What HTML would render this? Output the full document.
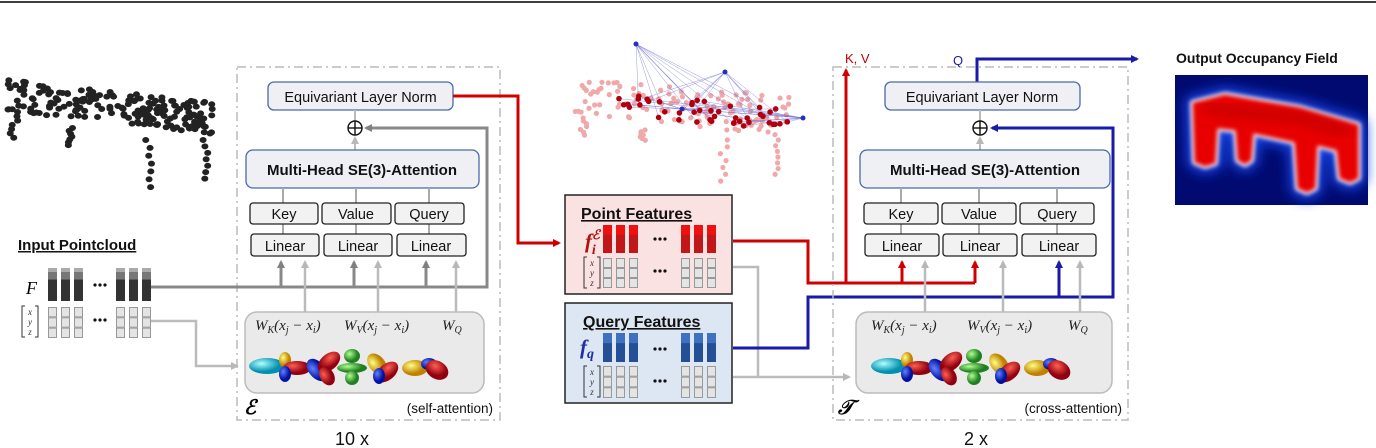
<!DOCTYPE html>
<html><head><meta charset="utf-8"><style>
html,body{margin:0;padding:0;background:#fff;}
svg{display:block;font-family:"Liberation Sans",sans-serif;}
</style></head><body>
<svg id="s" width="1376" height="448" viewBox="0 0 1376 448" xmlns="http://www.w3.org/2000/svg">
<defs>
<marker id="ag" markerWidth="8" markerHeight="8" refX="6" refY="4" orient="auto" markerUnits="userSpaceOnUse"><path d="M0,0 L8,4 L0,8 z" fill="#808080"/></marker>
<marker id="al" markerWidth="8" markerHeight="8" refX="6" refY="4" orient="auto" markerUnits="userSpaceOnUse"><path d="M0,0 L8,4 L0,8 z" fill="#b8b8b8"/></marker>
<marker id="ar" markerWidth="8" markerHeight="8" refX="6" refY="4" orient="auto" markerUnits="userSpaceOnUse"><path d="M0,0 L8,4 L0,8 z" fill="#d00000"/></marker>
<marker id="ab" markerWidth="8" markerHeight="8" refX="6" refY="4" orient="auto" markerUnits="userSpaceOnUse"><path d="M0,0 L8,4 L0,8 z" fill="#1a1aa8"/></marker>
<filter id="bl" x="-20%" y="-20%" width="140%" height="140%"><feGaussianBlur stdDeviation="6"/></filter>
<filter id="bl2" x="-20%" y="-20%" width="140%" height="140%"><feGaussianBlur stdDeviation="2"/></filter>
<path id="tbl" d="M1193,103 L1225,95 L1300,108 L1358,125 L1358,178 L1350,182 L1340,178 L1337,150 L1317,145 L1315,188 L1307,192 L1298,188 L1295,142 L1253,133 L1251,160 L1245,164 L1238,160 L1236,130 L1217,128 L1215,163 L1205,166 L1195,162 Z" stroke-linejoin="round"/>
<radialGradient id="gc" cx="35%" cy="35%"><stop offset="0" stop-color="#b0ffff"/><stop offset="1" stop-color="#0090b0"/></radialGradient>
<radialGradient id="gr" cx="35%" cy="35%"><stop offset="0" stop-color="#ff6050"/><stop offset="1" stop-color="#900010"/></radialGradient>
<radialGradient id="gb" cx="35%" cy="35%"><stop offset="0" stop-color="#6080ff"/><stop offset="1" stop-color="#0010a0"/></radialGradient>
<radialGradient id="gg" cx="35%" cy="35%"><stop offset="0" stop-color="#b0ff90"/><stop offset="1" stop-color="#208020"/></radialGradient>
<radialGradient id="gy" cx="35%" cy="35%"><stop offset="0" stop-color="#ffff80"/><stop offset="1" stop-color="#c08000"/></radialGradient>
<g id="orb">
<ellipse cx="-90" cy="0" rx="18" ry="8" fill="url(#gc)"/>
<ellipse cx="-72" cy="-6" rx="6" ry="8" fill="url(#gy)"/>
<ellipse cx="-60" cy="2" rx="14" ry="7" fill="url(#gr)"/>
<ellipse cx="-72" cy="8" rx="6" ry="8" fill="url(#gb)"/>
<ellipse cx="-40" cy="4" rx="8" ry="13" fill="url(#gb)" transform="rotate(-40 -40 4)"/>
<ellipse cx="-28" cy="-4" rx="8" ry="13" fill="url(#gr)" transform="rotate(50 -28 -4)"/>
<ellipse cx="-30" cy="10" rx="7" ry="10" fill="url(#gr)" transform="rotate(-30 -30 10)"/>
<ellipse cx="-5" cy="-10" rx="8" ry="7" fill="url(#gg)"/>
<ellipse cx="-5" cy="2" rx="15" ry="5" fill="url(#gg)"/>
<ellipse cx="-5" cy="12" rx="7" ry="7" fill="url(#gg)"/>
<ellipse cx="20" cy="-2" rx="8" ry="12" fill="url(#gy)" transform="rotate(-40 20 -2)"/>
<ellipse cx="30" cy="6" rx="8" ry="13" fill="url(#gr)" transform="rotate(50 30 6)"/>
<ellipse cx="22" cy="10" rx="6" ry="8" fill="url(#gb)"/>
<ellipse cx="58" cy="2" rx="13" ry="8" fill="url(#gy)"/>
<ellipse cx="72" cy="-2" rx="8" ry="6" fill="url(#gb)"/>
<ellipse cx="80" cy="4" rx="12" ry="9" fill="url(#gr)" transform="rotate(30 80 4)"/>
</g>
</defs>
<line x1="0" y1="2" x2="1376" y2="2" stroke="#000" stroke-width="1.5"/>

<g id="pc1"></g>
<g id="pc2"></g>

<!-- LEFT BLOCK -->
<rect x="237" y="67" width="263" height="353" fill="none" stroke="#bbb" stroke-width="1.5" stroke-dasharray="9,4,2,4"/>
<rect x="268" y="82" width="185" height="28" rx="6" fill="#eef0f4" stroke="#4a6aa8" stroke-width="1.3"/>
<text x="360.5" y="102" font-size="14.5" text-anchor="middle" fill="#111">Equivariant Layer Norm</text>
<line x1="355" y1="110" x2="355" y2="121" stroke="#bbb" stroke-width="2"/>
<circle cx="355" cy="128" r="7" fill="none" stroke="#111" stroke-width="1.4"/>
<line x1="348" y1="128" x2="362" y2="128" stroke="#111" stroke-width="1.4"/><line x1="355" y1="121" x2="355" y2="135" stroke="#111" stroke-width="1.4"/>
<line x1="355" y1="150" x2="355" y2="138" stroke="#bbb" stroke-width="2" marker-end="url(#al)"/>
<rect x="246" y="150" width="233" height="38" rx="7" fill="#eef0f4" stroke="#4a6aa8" stroke-width="1.3"/>
<text x="362" y="175" font-size="15" font-weight="bold" text-anchor="middle" fill="#111">Multi-Head SE(3)-Attention</text>
<g stroke="#aaa" stroke-width="2"><line x1="283" y1="188" x2="283" y2="235"/><line x1="356" y1="188" x2="356" y2="235"/><line x1="429" y1="188" x2="429" y2="235"/></g>
<g fill="#f2f2f2" stroke="#222" stroke-width="1.3">
<rect x="250" y="203" width="68" height="21" rx="3"/><rect x="322" y="203" width="69" height="21" rx="3"/><rect x="395" y="203" width="69" height="21" rx="3"/>
<rect x="251" y="234" width="68" height="22" rx="3"/><rect x="324" y="234" width="68" height="22" rx="3"/><rect x="397" y="234" width="69" height="22" rx="3"/></g>
<g font-size="14.5" text-anchor="middle" fill="#111">
<text x="284" y="219">Key</text><text x="356" y="219">Value</text><text x="429" y="219">Query</text>
<text x="285" y="251">Linear</text><text x="358" y="251">Linear</text><text x="431" y="251">Linear</text></g>
<polyline points="150,287 487,287 487,128 366,128" fill="none" stroke="#888" stroke-width="3" marker-end="url(#ag)"/>
<g stroke="#888" stroke-width="3"><line x1="281" y1="287" x2="281" y2="262" marker-end="url(#ag)"/><line x1="354" y1="287" x2="354" y2="262" marker-end="url(#ag)"/><line x1="426" y1="287" x2="426" y2="262" marker-end="url(#ag)"/></g>
<g stroke="#bbb" stroke-width="2.5"><line x1="305" y1="312" x2="305" y2="262" marker-end="url(#al)"/><line x1="378" y1="312" x2="378" y2="262" marker-end="url(#al)"/><line x1="456" y1="312" x2="456" y2="262" marker-end="url(#al)"/></g>
<polyline points="150,321 196,321 196,366 237,366" fill="none" stroke="#bbb" stroke-width="2.5" marker-end="url(#al)"/>
<rect x="245" y="312" width="239" height="81" rx="12" fill="#eaeaea" stroke="#bbb" stroke-width="1.5"/>
<g font-family="Liberation Serif,serif" font-style="italic" font-size="15" fill="#222">
<text x="255" y="330">W<tspan font-size="10" dy="3">K</tspan><tspan dy="-3">(x</tspan><tspan font-size="10" dy="3">j</tspan><tspan dy="-3"> − x</tspan><tspan font-size="10" dy="3">i</tspan><tspan dy="-3">)</tspan></text>
<text x="344" y="330">W<tspan font-size="10" dy="3">V</tspan><tspan dy="-3">(x</tspan><tspan font-size="10" dy="3">j</tspan><tspan dy="-3"> − x</tspan><tspan font-size="10" dy="3">i</tspan><tspan dy="-3">)</tspan></text>
<text x="442" y="330">W<tspan font-size="10" dy="3">Q</tspan></text></g>
<use href="#orb" x="357" y="366"/>
<text x="244" y="414" font-family="Liberation Serif,serif" font-style="italic" font-weight="bold" font-size="20">ℰ</text>
<text x="493" y="413" font-size="13.5" text-anchor="end" fill="#111">(self-attention)</text>
<text x="352" y="445" font-size="18" text-anchor="middle" fill="#111">10 x</text>

<!-- INPUT -->
<text x="18" y="250" font-size="15" font-weight="bold" text-decoration="underline" fill="#111">Input Pointcloud</text>
<text x="26" y="294" font-family="Liberation Serif,serif" font-style="italic" font-size="18">F</text>

<!-- CENTER BOXES -->
<rect x="565" y="195" width="167" height="99" fill="#fbe2e2" stroke="#222" stroke-width="1.5"/>
<text x="581" y="219" font-size="16" font-weight="bold" text-decoration="underline" fill="#111">Point Features</text>
<text x="585" y="248" font-family="Liberation Serif,serif" font-style="italic" font-weight="bold" font-size="21" fill="#b01010">f<tspan font-size="13" dy="-9">ℰ</tspan><tspan font-size="14" dx="-8" dy="15">i</tspan></text>
<rect x="565" y="303" width="167" height="100" fill="#dde6f3" stroke="#222" stroke-width="1.5"/>
<text x="583" y="327" font-size="16" font-weight="bold" text-decoration="underline" fill="#111">Query Features</text>
<text x="580" y="354" font-family="Liberation Serif,serif" font-style="italic" font-weight="bold" font-size="21" fill="#2030a0">f<tspan font-size="14" dy="4">q</tspan></text>
<g id="inbars"></g>

<polyline points="453,96 518,96 518,243 559,243" fill="none" stroke="#d00000" stroke-width="3" marker-end="url(#ar)"/>
<polyline points="733,267 758,267 758,377" fill="none" stroke="#bbb" stroke-width="2.5"/>
<polyline points="733,377 849,377" fill="none" stroke="#bbb" stroke-width="2.5" marker-end="url(#al)"/>
<polyline points="733,241 808,241 808,283 975,283" fill="none" stroke="#d00000" stroke-width="3"/>
<line x1="846" y1="283" x2="846" y2="70" stroke="#d00000" stroke-width="3" marker-end="url(#ar)"/>
<line x1="902" y1="283" x2="902" y2="262" stroke="#d00000" stroke-width="3" marker-end="url(#ar)"/>
<line x1="975" y1="283" x2="975" y2="262" stroke="#d00000" stroke-width="3" marker-end="url(#ar)"/>
<text x="845" y="63" font-size="13" fill="#c00000">K, V</text>
<polyline points="733,348 808,348 808,297 1113,297 1113,128 992,128" fill="none" stroke="#1a1aa8" stroke-width="3" marker-end="url(#ab)"/>
<line x1="1059" y1="297" x2="1059" y2="262" stroke="#1a1aa8" stroke-width="3" marker-end="url(#ab)"/>
<polyline points="977,82 977,59 1137,59" fill="none" stroke="#1a1aa8" stroke-width="3" marker-end="url(#ab)"/>
<text x="953" y="65" font-size="13" fill="#1a1aa8">Q</text>

<!-- RIGHT BLOCK -->
<rect x="833" y="67" width="295" height="353" fill="none" stroke="#bbb" stroke-width="1.5" stroke-dasharray="9,4,2,4"/>
<rect x="885" y="82" width="195" height="28" rx="6" fill="#eef0f4" stroke="#4a6aa8" stroke-width="1.3"/>
<text x="982" y="102" font-size="14.5" text-anchor="middle" fill="#111">Equivariant Layer Norm</text>
<line x1="980" y1="110" x2="980" y2="121" stroke="#bbb" stroke-width="2"/>
<circle cx="980" cy="128" r="7" fill="none" stroke="#111" stroke-width="1.4"/>
<line x1="973" y1="128" x2="987" y2="128" stroke="#111" stroke-width="1.4"/><line x1="980" y1="121" x2="980" y2="135" stroke="#111" stroke-width="1.4"/>
<line x1="980" y1="150" x2="980" y2="138" stroke="#bbb" stroke-width="2" marker-end="url(#al)"/>
<rect x="860" y="150" width="250" height="38" rx="7" fill="#eef0f4" stroke="#4a6aa8" stroke-width="1.3"/>
<text x="985" y="175" font-size="15" font-weight="bold" text-anchor="middle" fill="#111">Multi-Head SE(3)-Attention</text>
<g stroke="#aaa" stroke-width="2"><line x1="901" y1="188" x2="901" y2="235"/><line x1="979" y1="188" x2="979" y2="235"/><line x1="1057" y1="188" x2="1057" y2="235"/></g>
<g fill="#f2f2f2" stroke="#222" stroke-width="1.3">
<rect x="864" y="203" width="74" height="21" rx="3"/><rect x="942" y="203" width="74" height="21" rx="3"/><rect x="1020" y="203" width="74" height="21" rx="3"/>
<rect x="865" y="234" width="74" height="22" rx="3"/><rect x="943" y="234" width="74" height="22" rx="3"/><rect x="1022" y="234" width="74" height="22" rx="3"/></g>
<g font-size="14.5" text-anchor="middle" fill="#111">
<text x="901" y="219">Key</text><text x="979" y="219">Value</text><text x="1057" y="219">Query</text>
<text x="902" y="251">Linear</text><text x="980" y="251">Linear</text><text x="1059" y="251">Linear</text></g>
<g stroke="#bbb" stroke-width="2.5"><line x1="925" y1="312" x2="925" y2="262" marker-end="url(#al)"/><line x1="1003" y1="312" x2="1003" y2="262" marker-end="url(#al)"/><line x1="1080" y1="312" x2="1080" y2="262" marker-end="url(#al)"/></g>
<rect x="856" y="312" width="256" height="81" rx="12" fill="#eaeaea" stroke="#bbb" stroke-width="1.5"/>
<g font-family="Liberation Serif,serif" font-style="italic" font-size="15" fill="#222">
<text x="871" y="330">W<tspan font-size="10" dy="3">K</tspan><tspan dy="-3">(x</tspan><tspan font-size="10" dy="3">j</tspan><tspan dy="-3"> − x</tspan><tspan font-size="10" dy="3">i</tspan><tspan dy="-3">)</tspan></text>
<text x="967" y="330">W<tspan font-size="10" dy="3">V</tspan><tspan dy="-3">(x</tspan><tspan font-size="10" dy="3">j</tspan><tspan dy="-3"> − x</tspan><tspan font-size="10" dy="3">i</tspan><tspan dy="-3">)</tspan></text>
<text x="1068" y="330">W<tspan font-size="10" dy="3">Q</tspan></text></g>
<use href="#orb" x="979" y="366"/>
<text x="838" y="414" font-family="Liberation Serif,serif" font-style="italic" font-weight="bold" font-size="20">𝒯</text>
<text x="1122" y="413" font-size="13.5" text-anchor="end" fill="#111">(cross-attention)</text>
<text x="976" y="445" font-size="18" text-anchor="middle" fill="#111">2 x</text>

<!-- OUTPUT -->
<text x="1176" y="63" font-size="14" font-weight="bold" fill="#111">Output Occupancy Field</text>
<rect x="1175" y="75" width="193" height="130" fill="#000a70"/>
<g filter="url(#bl)"><use href="#tbl" fill="#1840e0" stroke="#1840e0" stroke-width="16"/></g>
<g filter="url(#bl2)"><use href="#tbl" fill="#f0f4ff" stroke="#f0f4ff" stroke-width="6"/></g>
<g filter="url(#bl2)"><use href="#tbl" fill="#e80000" stroke="#e80000" stroke-width="1"/></g>
<path d="M1205,108 L1300,118 L1350,133" fill="none" stroke="#b00000" stroke-width="6" filter="url(#bl)"/>
</svg>
<script>
var NS="http://www.w3.org/2000/svg";
function el(p,t,a){var e=document.createElementNS(NS,t);for(var k in a)e.setAttribute(k,a[k]);p.appendChild(e);return e;}
var seed=7;function r(){seed=(seed*16807)%2147483647;return seed/2147483647;}
var g1=document.getElementById('pc1');
for(var i=0;i<190;i++){var u=r(),v=r();var x=8+u*205,y=80+v*32+u*22;el(g1,'ellipse',{cx:x,cy:y,rx:3.5,ry:3,fill:'#222'});}
var legs=[[10,112,30],[68,128,20],[145,140,55],[200,140,45]];
legs.forEach(function(l){for(var j=0;j<7;j++)el(g1,'ellipse',{cx:l[0]+r()*8,cy:l[1]+j*l[2]/7,rx:3.5,ry:3,fill:'#222'});});
var g2=document.getElementById('pc2');
var hubs=[[636,44],[725,72],[682,109],[803,118]];
var reds=[];
for(var i=0;i<130;i++){var u=r(),v=r();var x=575+u*215,y=78+v*40+u*18;el(g2,'circle',{cx:x,cy:y,r:2.6,fill:'#f0a8a8'});}
for(var i=0;i<45;i++){var u=r(),v=r();var x=618+u*170,y=92+v*22+u*18;reds.push([x,y]);}
[[720,140,48],[775,140,40],[580,118,20],[640,130,12]].forEach(function(l){for(var j=0;j<7;j++)el(g2,'circle',{cx:l[0]+r()*8,cy:l[1]+j*l[2]/7,r:2.6,fill:'#f0a8a8'});});
reds.forEach(function(p,k){var h=hubs[k%4];el(g2,'line',{x1:h[0],y1:h[1],x2:p[0],y2:p[1],stroke:'#7070d0','stroke-width':0.5,opacity:0.7});});
reds.forEach(function(p){el(g2,'circle',{cx:p[0],cy:p[1],r:2.8,fill:'#b00010'});});
hubs.forEach(function(h){el(g2,'circle',{cx:h[0],cy:h[1],r:2.5,fill:'#2030c0'});});
function bars(g,xs,y,h,topc,botc,midc){xs.forEach(function(x){el(g,'rect',{x:x,y:y,width:9,height:h,fill:botc});el(g,'rect',{x:x,y:y,width:9,height:h*0.35,fill:topc});if(midc)el(g,'rect',{x:x,y:y,width:9,height:4,fill:midc});});}
function grid(g,xs,y,h){xs.forEach(function(x){for(var j=0;j<3;j++)el(g,'rect',{x:x+0.5,y:y+j*h/3+0.5,width:8,height:h/3-1,fill:'#e4e4e4',stroke:'#999','stroke-width':1});});}
function dots(g,x,y,c){for(var j=0;j<3;j++)el(g,'circle',{cx:x+j*5,cy:y,r:1.6,fill:c||'#111'});}
function brk(g,x,y){el(g,'path',{d:'M'+(x+3)+','+y+' h-3 v31 h3 M'+(x+13)+','+y+' h3 v31 h-3',fill:'none',stroke:'#333','stroke-width':1});
 ['x','y','z'].forEach(function(c,j){var t=el(g,'text',{x:x+8,y:y+9+j*10,'font-size':9,'font-style':'italic','font-family':'Liberation Serif,serif','text-anchor':'middle',fill:'#333'});t.textContent=c;});}
var gg=document.getElementById('inbars');
var xs=[48,61,74,116,129,142];
bars(gg,xs,268,33,'#777','#333','#aaa');dots(gg,95,285);grid(gg,xs,307,31);dots(gg,95,320);brk(gg,22,306);
var xr=[603,616,629,681,694,707];
bars(gg,xr,225,28,'#f01010','#c01818');dots(gg,655,239);grid(gg,xr,258,30);dots(gg,655,271);brk(gg,584,257);
bars(gg,xr,333,29,'#4070c0','#254f95');dots(gg,655,349);grid(gg,xr,366,32);dots(gg,655,381);brk(gg,584,366);
</script>
</body></html>
